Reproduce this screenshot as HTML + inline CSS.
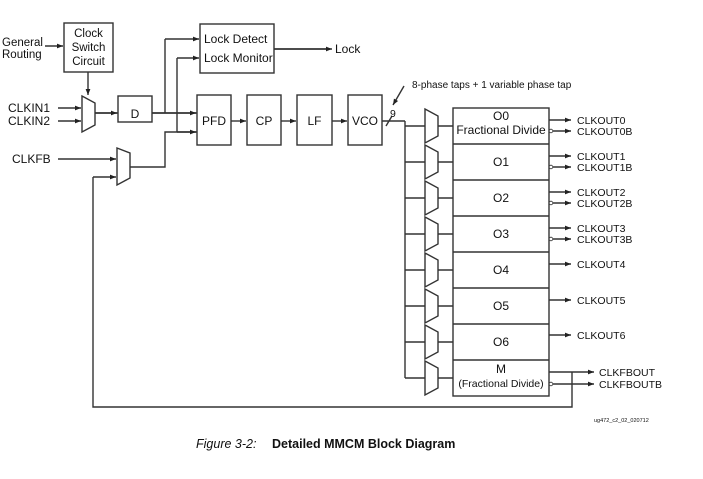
<!DOCTYPE html>
<html><head><meta charset="utf-8"><style>
html,body{margin:0;padding:0;background:#fff;}
svg{display:block;font-family:"Liberation Sans",Arial,sans-serif;}
</style></head><body>
<svg width="703" height="479" viewBox="0 0 703 479" xmlns="http://www.w3.org/2000/svg">
<defs><marker id="a" viewBox="0 0 10 10" refX="10" refY="5" markerWidth="7" markerHeight="6" orient="auto" markerUnits="userSpaceOnUse"><path d="M0,1 L10,5 L0,9 z" fill="#222"/></marker></defs>
<g stroke="#333" stroke-width="1.4" fill="none">
<rect x="64" y="23" width="49" height="49"/>
<rect x="200" y="24" width="74" height="49"/>
<rect x="118" y="96" width="34" height="26"/>
<rect x="197" y="95" width="34" height="50"/>
<rect x="247" y="95" width="34" height="50"/>
<rect x="297" y="95" width="35" height="50"/>
<rect x="348" y="95" width="34" height="50"/>
<polygon points="82,96 95,103 95,125 82,132"/>
<polygon points="117,148 130,153 130,178 117,185"/>
<rect x="453" y="108" width="96" height="288"/>
<path d="M453,144H549M453,180H549M453,216H549M453,252H549M453,288H549M453,324H549M453,360H549"/>
<polygon points="425,109 438,116 438,136 425,143"/>
<polygon points="425,145 438,152 438,172 425,179"/>
<polygon points="425,181 438,188 438,208 425,215"/>
<polygon points="425,217 438,224 438,244 425,251"/>
<polygon points="425,253 438,260 438,280 425,287"/>
<polygon points="425,289 438,296 438,316 425,323"/>
<polygon points="425,325 438,332 438,352 425,359"/>
<polygon points="425,361 438,368 438,388 425,395"/>
<path d="M405,121V378M405,126H425M405,162H425M405,198H425M405,234H425M405,270H425M405,306H425M405,342H425M405,378H425"/>
<path d="M438,126H453M438,162H453M438,198H453M438,234H453M438,270H453M438,306H453M438,342H453M438,378H453"/>
<path d="M382,121H405M386,126L392,116"/>
<path d="M95,113H118M152,113H165V39M165,113H197M177,58V132M130,167H165V132H197"/>
<path d="M274,49H330M93,177V407H572V372"/>
</g>
<g stroke="#333" stroke-width="1.4" fill="none" marker-end="url(#a)">
<path d="M45,46H63"/><path d="M88,72V95"/>
<path d="M58,108H81"/><path d="M58,121H81"/>
<path d="M95,113H117"/><path d="M152,113H196"/>
<path d="M165,39H199"/><path d="M177,58H199"/><path d="M177,132H196"/>
<path d="M274,49H332"/>
<path d="M231,121H246"/><path d="M281,121H296"/><path d="M332,121H347"/>
<path d="M58,159H116"/><path d="M93,177H116"/>
<path d="M404,86L393,105"/>
<path d="M549,120H571"/><path d="M553,131H571"/>
<path d="M549,156H571"/><path d="M553,167H571"/>
<path d="M549,192H571"/><path d="M553,203H571"/>
<path d="M549,228H571"/><path d="M553,239H571"/>
<path d="M549,264H571"/><path d="M549,300H571"/><path d="M549,335H571"/>
<path d="M549,372H594"/><path d="M553,384H594"/>
</g>
<g fill="#fff" stroke="#333" stroke-width="0.8">
<circle cx="551" cy="131" r="1.8"/><circle cx="551" cy="167" r="1.8"/><circle cx="551" cy="203" r="1.8"/><circle cx="551" cy="239" r="1.8"/><circle cx="551" cy="384" r="1.8"/>
</g>
<g font-size="12" fill="#111">
<text x="2" y="46" font-size="11.5">General</text><text x="2" y="58" font-size="11.5">Routing</text>
<text x="88.5" y="37" text-anchor="middle" font-size="11.5">Clock</text><text x="88.5" y="51" text-anchor="middle" font-size="11.5">Switch</text><text x="88.5" y="65" text-anchor="middle" font-size="11.5">Circuit</text>
<text x="204" y="43">Lock Detect</text><text x="204" y="62">Lock Monitor</text>
<text x="335" y="53">Lock</text>
<text x="8" y="112">CLKIN1</text><text x="8" y="125">CLKIN2</text>
<text x="12" y="163">CLKFB</text>
<text x="135" y="118" text-anchor="middle">D</text>
<text x="214" y="125" text-anchor="middle">PFD</text>
<text x="264" y="125" text-anchor="middle">CP</text>
<text x="314.5" y="125" text-anchor="middle">LF</text>
<text x="365" y="125" text-anchor="middle">VCO</text>
<text x="390" y="117" font-size="10.5">9</text>
<text x="412" y="88" font-size="10">8-phase taps + 1 variable phase tap</text>
<text x="501" y="120" text-anchor="middle">O0</text><text x="501" y="134" text-anchor="middle">Fractional Divide</text>
<text x="501" y="166" text-anchor="middle">O1</text>
<text x="501" y="202" text-anchor="middle">O2</text>
<text x="501" y="238" text-anchor="middle">O3</text>
<text x="501" y="274" text-anchor="middle">O4</text>
<text x="501" y="310" text-anchor="middle">O5</text>
<text x="501" y="346" text-anchor="middle">O6</text>
<text x="501" y="373" text-anchor="middle">M</text><text x="501" y="387" text-anchor="middle" font-size="10.5">(Fractional Divide)</text>
<g font-size="10.5"><text x="577" y="124">CLKOUT0</text><text x="577" y="135">CLKOUT0B</text>
<text x="577" y="160">CLKOUT1</text><text x="577" y="171">CLKOUT1B</text>
<text x="577" y="196">CLKOUT2</text><text x="577" y="207">CLKOUT2B</text>
<text x="577" y="232">CLKOUT3</text><text x="577" y="243">CLKOUT3B</text>
<text x="577" y="268">CLKOUT4</text><text x="577" y="304">CLKOUT5</text><text x="577" y="339">CLKOUT6</text>
<text x="599" y="376">CLKFBOUT</text><text x="599" y="388">CLKFBOUTB</text></g>
<text x="594" y="422" font-size="5.5">ug472_c2_02_020712</text>
<text x="196" y="448" font-size="12.5" font-style="italic">Figure 3-2:</text>
<text x="272" y="448" font-size="12.5" font-weight="bold">Detailed MMCM Block Diagram</text>
</g>
</svg>
</body></html>
